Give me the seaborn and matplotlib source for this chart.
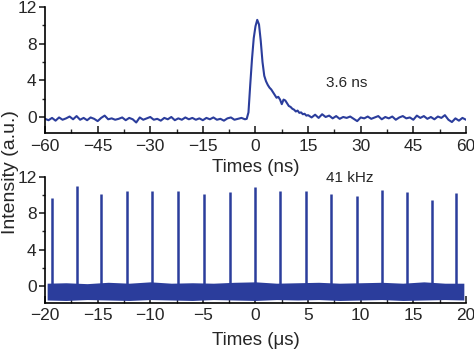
import numpy as np
import pandas as pd
import matplotlib
matplotlib.use("Agg")
import matplotlib.pyplot as plt
import seaborn as sns
from matplotlib.ticker import MultipleLocator

# ---------------- data ----------------
# Top panel: single pulse trace (time in ns, intensity a.u.)
t_base_left = list(range(-60, -2))
i_base_left = [-0.2, -0.35, -0.1, -0.4, -0.05, -0.3, -0.15, 0.05, -0.25, 0.1,
               -0.3, -0.1, -0.35, -0.05, -0.2, -0.45, -0.1, 0.15, -0.25, -0.15,
               -0.3, -0.2, -0.05, -0.35, -0.1, -0.25, -0.6, -0.05, -0.3, -0.15,
               0.0, -0.3, -0.2, -0.4, -0.1, -0.25, 0.0, -0.35, -0.15, -0.3,
               -0.05, -0.25, -0.1, -0.3, -0.15, -0.35, -0.1, -0.25, -0.05, -0.3,
               -0.2, -0.4, -0.15, -0.05, -0.3, -0.2, -0.1, -0.25]
t_pulse = [-2.5, -2.0, -1.5, -1.0, -0.5, 0.0, 0.5, 1.0, 1.5, 2.0, 2.5, 3.0, 3.5,
           4.0, 4.5, 5.0, 5.5, 6.0, 6.5, 7.0, 7.5, 8.0, 8.5, 9.0, 9.5, 10.0,
           10.5, 11.0, 11.5, 12.0, 12.5, 13.0, 13.5, 14.0, 14.5, 15.0]
i_pulse = [-0.2, 0.5, 3.5, 6.3, 8.6, 9.9, 10.6, 10.1, 8.3, 6.0, 4.5, 3.9, 3.5,
           3.2, 3.0, 2.7, 2.4, 2.1, 2.2, 1.9, 1.4, 1.9, 1.8, 1.5, 1.2, 1.1,
           0.9, 0.8, 0.6, 0.7, 0.45, 0.5, 0.3, 0.35, 0.15, 0.2]
t_base_right = list(range(16, 61))
i_base_right = [-0.05, 0.25, -0.1, 0.3, 0.0, 0.15, -0.15, 0.1, -0.2, 0.0,
                -0.1, 0.05, -0.2, -0.45, -0.05, -0.15, 0.05, -0.2, -0.05, 0.1,
                -0.25, 0.0, -0.15, 0.05, -0.3, -0.05, 0.1, -0.15, -0.05, -0.3,
                0.15, -0.1, 0.1, -0.2, 0.0, -0.25, 0.05, -0.1, 0.2, -0.3,
                -0.55, -0.15, -0.4, -0.1, -0.3]

# Bottom panel: pulse train (time in us)
pulse_times = [-19.36, -16.93, -14.65, -12.21, -9.81, -7.33, -4.92, -2.45, -0.05,
               2.36, 4.77, 7.20, 9.62, 12.02, 14.37, 16.74, 19.05]
pulse_peaks = [9.7, 11.0, 10.1, 10.5, 10.4, 10.4, 10.1, 10.3, 10.9,
               10.5, 10.5, 10.1, 9.9, 10.6, 10.3, 9.5, 10.2]
# noise band envelope
band_t = [-19.8, -18, -16, -14, -12, -10, -8, -6, -4, -2, 0, 2, 4, 6, 8, 10,
          12, 14, 16, 18, 19.8]
band_top = [0.3, 0.35, 0.25, 0.4, 0.3, 0.45, 0.3, 0.35, 0.3, 0.4, 0.45, 0.3,
            0.35, 0.4, 0.3, 0.35, 0.4, 0.3, 0.45, 0.3, 0.3]
band_bot = [-1.55, -1.6, -1.5, -1.55, -1.6, -1.5, -1.55, -1.6, -1.5, -1.55,
            -1.6, -1.5, -1.55, -1.5, -1.6, -1.55, -1.5, -1.6, -1.55, -1.5, -1.55]

label_top_x = "Times (ns)"
label_bot_x = "Times (\u03bcs)"
label_y = "Intensity (a.u.)"
annot_top = "3.6 ns"
annot_bot = "41 kHz"

# ---------------- plot ----------------
sns.set_style("ticks")
plt.rcParams['font.family'] = ['Liberation Sans', 'DejaVu Sans']
color = "#2B3D9C"

df_top = pd.DataFrame({
    "t": t_base_left + t_pulse + t_base_right,
    "I": i_base_left + i_pulse + i_base_right,
})

fig = plt.figure(figsize=(4.74, 3.51), dpi=100)
ax1 = fig.add_axes([0.095, 0.621, 0.888, 0.359])
ax2 = fig.add_axes([0.095, 0.137, 0.888, 0.359])

sns.lineplot(data=df_top, x="t", y="I", ax=ax1, color=color, linewidth=1.5)
ax1.set_xlim(-60, 60)
ax1.set_ylim(-1.75, 12)
ax1.xaxis.set_major_locator(MultipleLocator(15))
ax1.xaxis.set_minor_locator(MultipleLocator(7.5))
ax1.set_xlabel(label_top_x, fontsize=13.5, labelpad=4)
ax1.set_ylabel("")
ax1.text(26, 3.7, annot_top, fontsize=11, ha="center", va="center")

# bottom panel
ax2.fill_between(band_t, band_bot, band_top, color=color, linewidth=0)
df_pulses = pd.DataFrame({"t": pulse_times, "peak": pulse_peaks})
ax2.vlines(df_pulses["t"], 0, df_pulses["peak"], color=color, linewidth=1.8)
ax2.set_xlim(-20, 20)
ax2.set_ylim(-1.87, 12)
ax2.xaxis.set_major_locator(MultipleLocator(5))
ax2.xaxis.set_minor_locator(MultipleLocator(2.5))
ax2.set_xlabel(label_bot_x, fontsize=13.5, labelpad=6)
ax2.text(9.0, 11.9, annot_bot, fontsize=11, ha="center", va="center", clip_on=False)

for ax in (ax1, ax2):
    sns.despine(ax=ax)
    for s in ("left", "bottom"):
        ax.spines[s].set_linewidth(1.2)
        ax.spines[s].set_color("black")
    ax.yaxis.set_major_locator(MultipleLocator(4))
    ax.yaxis.set_minor_locator(MultipleLocator(2))
    ax.tick_params(axis="x", which="major", direction="in", length=5, width=1.2,
                   labelsize=12.5, pad=4)
    ax.tick_params(axis="x", which="minor", direction="in", length=3, width=1.0)
    ax.tick_params(axis="y", which="major", direction="out", length=4, width=1.2,
                   labelsize=12.5, pad=2)
    ax.tick_params(axis="y", which="minor", direction="out", length=2.5, width=1.0)

fig.text(0.022, 0.51, label_y, rotation=90, fontsize=14, ha="center", va="center")

fig.savefig("out.png", dpi=100)
